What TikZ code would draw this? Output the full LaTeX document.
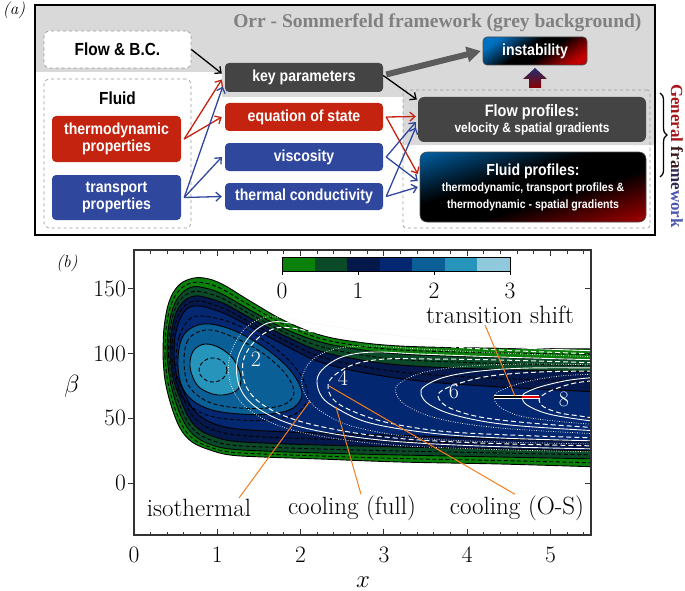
\documentclass[tikz,border=0pt]{standalone}
\usepackage{fontspec}
\newfontfamily\boxfont[FakeStretch=0.88]{Liberation Sans}
\newfontfamily\tnr{Liberation Serif}
\usetikzlibrary{arrows.meta,decorations.pathreplacing,calc}
\definecolor{cred}{HTML}{C4230F}
\definecolor{cblue}{HTML}{30479E}
\definecolor{cdark}{HTML}{444444}
\definecolor{cgreyb}{HTML}{D9D9D9}
\definecolor{cdashg}{HTML}{9A9A9A}
\definecolor{cgarrow}{HTML}{5C5C5C}
\definecolor{sblue}{HTML}{0070C0}
\definecolor{sred}{HTML}{C00000}
\definecolor{c1}{HTML}{0B800B}
\definecolor{c2}{HTML}{0A4A28}
\definecolor{c3}{HTML}{05184C}
\definecolor{c4}{HTML}{032770}
\definecolor{c5}{HTML}{0A5F96}
\definecolor{c6}{HTML}{2794BC}
\definecolor{c7}{HTML}{90C8DC}
\definecolor{corange}{HTML}{F47E1E}
\definecolor{axc}{HTML}{333333}
\definecolor{gA}{HTML}{A3171B}
\definecolor{gB}{HTML}{3A1A1A}
\definecolor{gC}{HTML}{2E2A50}
\definecolor{gD}{HTML}{4A58B0}
\definecolor{arrtop}{HTML}{1E2D6E}
\definecolor{arrbot}{HTML}{8B0000}
\definecolor{tsred}{HTML}{E00010}
\pgfdeclarehorizontalshading{bbr}{100bp}{color(0bp)=(sblue); color(36bp)=(sblue); color(47bp)=(black); color(53bp)=(black); color(64bp)=(sred); color(100bp)=(sred)}
\begin{document}
\begin{tikzpicture}[x=1pt,y=-1pt,
  bx/.style={rounded corners=4pt, inner sep=0pt, text=white, align=center, font={\boxfont\bfseries\fontsize{16}{17}\selectfont}},
  dbox/.style={draw=cdashg, dashed, line width=0.7pt, rounded corners=5pt, inner sep=0pt},
  arr/.style={line width=1.3pt, -{Straight Barb[length=5pt,width=9pt]}},
  lbl/.style={font=\fontsize{25}{28}\selectfont, inner sep=1pt},
  tkl/.style={font=\fontsize{23.5}{26}\selectfont, inner sep=1pt},
  nlb/.style={font=\fontsize{22}{24}\selectfont, inner sep=1pt, text=white},
  blk/.style={draw=black, line width=0.9pt},
  dsh/.style={draw=black, line width=0.9pt, dash pattern=on 4pt off 2.5pt},
  wsol/.style={draw=white, line width=0.9pt},
  wdash/.style={draw=white, line width=1pt, dash pattern=on 5pt off 3pt},
  wdot/.style={draw=white!85!gray, line width=0.8pt, dash pattern=on 0.8pt off 1.6pt},
  org/.style={draw=corange, line width=1pt},
  tk/.style={draw=axc, line width=1pt}]
\useasboundingbox (0,0) rectangle (685,591);

% ================= panel (a) =================
\node[font=\itshape\fontsize{17}{19}\selectfont] (la) at (14,10) {(a)};
\fill[cgreyb] (35,5) -- (655,5) -- (655,145) -- (403,145) -- (403,97) -- (222,97) -- (222,72) -- (35,72) -- cycle;
\draw[line width=1.1pt] (35,5) rectangle (655,235);
\node[anchor=east, text=gray, font={\tnr\bfseries\fontsize{19.5}{22}\selectfont}] (title) at (645,23) {Orr - Sommerfeld framework (grey background)};

\node[dbox, fill=white, minimum width=147pt, minimum height=37pt, font={\boxfont\bfseries\fontsize{17.5}{20}\selectfont}] (flowbc) at (117.5,49.5) {Flow \& B.C.};
\node[dbox, minimum width=147pt, minimum height=149pt] (fluidbox) at (117.5,153.5) {};
\node[font={\boxfont\bfseries\fontsize{17.5}{20}\selectfont}] (fluidlbl) at (117.5,98) {Fluid};
\node[bx, fill=cred, minimum width=129pt, minimum height=46pt] (thermo) at (116.5,139) {thermodynamic\\properties};
\node[bx, fill=cblue, minimum width=129pt, minimum height=45pt] (transp) at (116.5,197.5) {transport\\properties};

\node[bx, fill=cdark, minimum width=158pt, minimum height=29pt] (keyp) at (304,77.5) {key parameters};
\node[bx, fill=cred, minimum width=158pt, minimum height=28pt] (eos) at (304,117) {equation of state};
\node[bx, fill=cblue, minimum width=158pt, minimum height=28pt] (visc) at (304,157) {viscosity};
\node[bx, fill=cblue, minimum width=158pt, minimum height=27pt] (thc) at (304,196.5) {thermal conductivity};

% gradient fills (square shadings clipped to the rounded boxes)
\begin{scope}
\clip[rounded corners=4pt] (483,37) rectangle (587,65);
\shade[shading=bbr, shading angle=-55] (480,-4) rectangle (590,106);
\end{scope}
\draw[black!70, line width=0.6pt, rounded corners=4pt] (483,37) rectangle (587,65);
\begin{scope}
\clip[rounded corners=7pt] (420,152) rectangle (646,222);
\shade[shading=bbr, shading angle=-73] (399,53) rectangle (667,321);
\end{scope}
\draw[black!70, line width=0.6pt, rounded corners=7pt] (420,152) rectangle (646,222);
\node[bx, minimum width=104pt, minimum height=28pt] (instab) at (535,51) {instability};
\node[dbox, rounded corners=3pt, minimum width=247pt, minimum height=138pt] (profbox) at (526.5,159) {};
\node[bx, fill=cdark, rounded corners=6pt, minimum width=228pt, minimum height=45pt] (flowprof) at (532,119.5)
  {{\fontsize{16.5}{18}\selectfont Flow profiles:}\\[-1pt]{\fontsize{13.6}{16}\selectfont velocity \& spatial gradients}};
\node[bx, rounded corners=7pt, minimum width=226pt, minimum height=70pt] (fluidprof) at (533,187)
  {{\fontsize{16}{18}\selectfont Fluid profiles:}\\[-1pt]{\fontsize{12}{15}\selectfont thermodynamic, transport profiles \&}\\{\fontsize{12}{15}\selectfont thermodynamic - spatial gradients}};

% arrows
\draw[arr, black] (flowbc.east) -- ([shift={(-3,-4)}]keyp.west);
\draw[arr, cred] ([xshift=3]thermo.east) -- ([shift={(-3,2)}]keyp.west);
\draw[arr, cred] ([xshift=3]thermo.east) -- ([xshift=-3]eos.west);
\draw[arr, cblue] ([xshift=3]transp.east) -- ([shift={(-2,9)}]keyp.west);
\draw[arr, cblue] ([xshift=3]transp.east) -- ([xshift=-3]visc.west);
\draw[arr, cblue] ([xshift=3]transp.east) -- ([xshift=-3]thc.west);
\draw[arr, black] ([yshift=2]keyp.east) -- ([shift={(-1,-20)}]flowprof.west);
\draw[line width=6pt, cgarrow, -{Triangle[length=14pt,width=15pt]}] ([shift={(3,-3)}]keyp.east) -- ([xshift=-2]instab.west);
\draw[arr, cred] ([xshift=3]eos.east) -- ([shift={(-2,-3)}]flowprof.west);
\draw[arr, cred] ([xshift=3]eos.east) -- ([shift={(-2,-13)}]fluidprof.west);
\draw[arr, cblue] ([xshift=3]visc.east) -- ([shift={(-2,2.5)}]flowprof.west);
\draw[arr, cblue] ([xshift=3]visc.east) -- ([shift={(-2,-6)}]fluidprof.west);
\draw[arr, cblue] ([xshift=3]thc.east) -- ([shift={(-2,8)}]flowprof.west);
\draw[arr, cblue] ([xshift=3]thc.east) -- ([shift={(-2,0)}]fluidprof.west);
% block arrow profiles -> instability
\shade[top color=arrtop, bottom color=arrbot] (535,68) -- (547,79) -- (541,79) -- (541,88) -- (529,88) -- (529,79) -- (523,79) -- cycle;
% brace and general framework
\draw[line width=1.3pt, decorate, decoration={brace, amplitude=7pt}] (660,93) -- (660,177);
\node[rotate=-90, inner sep=0pt, font={\tnr\bfseries\fontsize{17}{19}\selectfont}] (gf) at (677,156)
  {\textcolor{gA}{General} \textcolor{gB}{fra}\textcolor{gC}{me}\textcolor{gD}{work}};

% ================= panel (b) =================
\node[font=\itshape\fontsize{17}{19}\selectfont] (lb) at (67,263) {(b)};
\begin{scope}
\clip (134,250) rectangle (591,535);
% filled contour levels
\filldraw[fill=c1, blk] plot[smooth,tension=.6] coordinates {(163,356) (164,328) (169,302) (178,286) (190,279) (204,278) (222,284) (250,301) (283,320) (317,334) (350,341) (400,346) (483,348) (600,349)} -- (640,349) -- (640,467) -- plot[smooth,tension=.6] coordinates {(600,467) (500,464) (400,462) (320,459) (263,457) (230,455) (210,450) (192,442) (180,428) (171,405) (165,380) (163,356)} -- cycle;
\filldraw[fill=c2, blk] plot[smooth,tension=.6] coordinates {(167,356) (168,331) (173,308) (181,294) (192,287) (205,288) (222,294) (250,310) (283,328) (317,341) (350,348) (400,354) (483,357) (600,360)} -- (640,360) -- (640,459) -- plot[smooth,tension=.6] coordinates {(600,459) (500,457) (400,455) (320,453) (263,451) (230,449) (212,445) (196,437) (185,424) (176,403) (170,380) (167,356)} -- cycle;
\filldraw[fill=c3, blk] plot[smooth,tension=.6] coordinates {(170,356) (171,334) (176,313) (184,301) (195,296) (208,298) (225,304) (252,319) (285,336) (317,350) (350,358) (400,365) (483,369) (600,372)} -- (640,372) -- (640,451) -- plot[smooth,tension=.6] coordinates {(600,451) (500,449) (400,447) (320,445) (263,443) (232,441) (215,437) (200,430) (189,418) (180,398) (173,378) (170,356)} -- cycle;
\filldraw[fill=c4, blk] plot[smooth,tension=.6] coordinates {(174,356) (175,337) (180,319) (188,308) (199,306) (212,309) (230,316) (258,331) (290,348) (320,362) (360,372) (420,381) (500,387) (600,392)} -- (640,392) -- (640,441) -- plot[smooth,tension=.6] coordinates {(600,441) (500,439) (420,436) (350,434) (290,432) (250,430) (225,427) (206,420) (192,408) (183,390) (176,373) (174,356)} -- cycle;
\filldraw[fill=c5, blk] plot[smooth cycle,tension=.6] coordinates {(178,360) (182,338) (193,327) (210,324) (235,331) (265,348) (290,370) (302,393) (293,408) (270,414) (240,414) (212,410) (192,400) (181,384)};
\filldraw[fill=c6, blk] plot[smooth cycle,tension=.6] coordinates {(190,362) (194,350) (205,344) (220,348) (234,360) (241,378) (236,391) (218,395) (200,388) (192,375)};
% dashed contours
\draw[dsh] plot[smooth,tension=.6] coordinates {(165,356) (166,329.5) (171,305) (179.5,290) (191,283) (204.5,283) (222,289) (250,305.5) (283,324) (317,337.5) (350,344.5) (400,350) (483,352.5) (600,354.5)} -- (640,354.5) -- (640,463) -- plot[smooth,tension=.6] coordinates {(600,463) (500,460.5) (400,458.5) (320,456) (263,454) (230,452) (211,447.5) (194,439.5) (182.5,426) (173.5,404) (167.5,380) (165,356)};
\draw[dsh] plot[smooth,tension=.6] coordinates {(168.5,356) (169.5,332.5) (174.5,310.5) (182.5,297.5) (193.5,291.5) (206.5,293) (223.5,299) (251,314.5) (284,332) (317,345.5) (350,353) (400,359.5) (483,363) (600,366)} -- (640,366) -- (640,455) -- plot[smooth,tension=.6] coordinates {(600,455) (500,453) (400,451) (320,449) (263,447) (231,445) (213.5,441) (198,433.5) (187,421) (178,400.5) (171.5,379) (168.5,356)};
\draw[dsh] plot[smooth,tension=.6] coordinates {(172,356) (173,335.5) (178,316) (186,304.5) (197,301) (210,303.5) (227.5,310) (255,325) (287.5,342) (318.5,356) (355,365) (410,373) (491.5,378) (600,382)} -- (640,382) -- (640,446) -- plot[smooth,tension=.6] coordinates {(600,446) (500,444) (410,441.5) (335,439.5) (276.5,437.5) (241,435.5) (220,432) (203,425) (190.5,413) (181.5,394) (174.5,375.5) (172,356)};
\draw[dsh] plot[smooth cycle,tension=.6] coordinates {(176,360) (179,337) (191,318) (210,317) (237,325) (268,343) (295,367) (308,394) (297,413) (270,420) (240,420) (210,416) (189,405) (178,388)};
\draw[dsh] plot[smooth cycle,tension=.6] coordinates {(184,360) (187,342) (196,333) (211,330) (233,337) (261,352) (284,372) (294,391) (287,403) (268,408) (240,408) (214,404) (197,395) (187,382)};
\draw[dsh] (213,370) ellipse [x radius=14, y radius=12];
% N-factor curves: dotted = isothermal, solid = cooling (full), dashed = cooling (O-S)
\draw[wdot] plot[smooth,tension=.6] coordinates {(600,348) (500,344) (400,336) (330,326) (285,318) (262,318) (242,332) (229,360) (233,390) (255,414) (300,432) (380,444) (480,449) (600,452)};
\draw[wsol] plot[smooth,tension=.6] coordinates {(600,351) (500,347) (400,340) (330,331) (290,323) (268,323) (249,337) (237,362) (241,390) (262,411) (305,428) (380,440) (480,446) (600,449)};
\draw[wdash] plot[smooth,tension=.6] coordinates {(600,354) (500,350) (400,343) (330,335) (292,328) (273,329) (255,341) (243,362) (247,388) (268,408) (310,424) (385,437) (480,443) (600,446)};
\draw[wdot] plot[smooth,tension=.6] coordinates {(600,357) (500,353) (420,349) (370,346) (335,349) (312,360) (302,378) (306,396) (322,412) (355,427) (420,438) (500,442) (600,444)};
\draw[wsol] plot[smooth,tension=.6] coordinates {(600,360) (500,357) (420,354) (375,352) (345,356) (325,367) (317,380) (322,397) (338,409) (370,423) (430,433) (500,438) (600,441)};
\draw[wdash] plot[smooth,tension=.6] coordinates {(600,363) (500,360) (430,359) (385,359) (355,364) (336,374) (328,385) (333,399) (350,410) (385,422) (440,431) (510,435) (600,438)};
\draw[wdot] plot[smooth,tension=.6] coordinates {(600,365) (530,364) (470,366) (425,372) (400,383) (396,393) (407,406) (440,419) (500,428) (600,434)};
\draw[wsol] plot[smooth,tension=.6] coordinates {(600,368) (530,368) (480,371) (445,377) (425,386) (421,394) (430,405) (458,416) (510,425) (600,431)};
\draw[wdash] plot[smooth,tension=.6] coordinates {(600,371) (540,372) (490,376) (457,384) (440,392) (439,399) (450,408) (480,417) (530,423) (600,428)};
\draw[wdot] plot[smooth,tension=.6] coordinates {(600,374) (560,376) (525,382) (502,390) (494,397) (500,407) (520,416) (555,421) (600,425)};
\draw[wsol] plot[smooth,tension=.6] coordinates {(600,377) (570,380) (543,386) (527,392) (522,397) (527,405) (545,413) (570,418) (600,422)};
\draw[wdash] plot[smooth,tension=.6] coordinates {(600,380) (575,383) (555,389) (543,395) (539,400) (544,407) (560,413) (580,416) (600,419)};
\end{scope}
% N labels
\node[nlb] (n2) at (256,359) {2};
\node[nlb] (n4) at (343,378) {4};
\node[nlb] (n6) at (454,391) {6};
\node[nlb] (n8) at (564,399) {8};
% transition shift bar
\coordinate (tsL) at (494,397);
\coordinate (tsM) at (522,397);
\coordinate (tsR) at (539,397);
\draw[white, line width=4.5pt] (tsL) -- (tsR);
\draw[black, line width=1.3pt] (tsL) -- (tsM);
\draw[tsred, line width=1.3pt] (tsM) -- (tsR);
% labels with pointers
\node[lbl] (ts) at (500,315) {transition shift};
\node[lbl] (iso) at (199,508) {isothermal};
\node[lbl] (full) at (352,508) {cooling (full)};
\node[lbl] (os) at (517,508) {cooling (O-S)};
\coordinate (pIso) at (310,401);
\coordinate (pFull) at (336,407);
\coordinate (pOS) at (329,386);
\coordinate (pTS) at (515,396);
\draw[org] ([xshift=40]iso.north) -- (pIso);
\draw[org] ([xshift=9]full.north) -- (pFull);
\draw[org] ([xshift=-2]os.north) -- (pOS);
\draw[org] ([xshift=-15]ts.south) -- (pTS);
% colorbar
\foreach \c [count=\i from 0] in {c1,c2,c3,c4,c5,c6,c7}
  \fill[\c] ({282+\i*32.571},257) rectangle ({282+(\i+1)*32.571},271);
\draw[line width=0.8pt] (282,257) rectangle (510,271);
\foreach \k in {0,1,2,3} {
  \draw[line width=0.8pt] ({282+76*\k},271) -- ({282+76*\k},275);
  \node[tkl] (cb\k) at ({282+76*\k},291) {\k};
}
% axes
\draw[axc, line width=1.4pt] (134,250) rectangle (591,535);
\foreach \i in {1,...,27} {
  \draw[tk] ({134+\i*16.66},535) -- ({134+\i*16.66},531.5);
  \draw[tk] ({134+\i*16.66},250) -- ({134+\i*16.66},253.5);
}
\foreach \k in {1,...,5} {
  \draw[tk] ({134+\k*83.3},535) -- ({134+\k*83.3},529);
  \draw[tk] ({134+\k*83.3},250) -- ({134+\k*83.3},256);
}
\foreach \k in {0,...,5} \node[tkl] (xt\k) at ({134+83.3*\k},555) {\k};
\foreach \b in {0,50,100,150} {
  \draw[tk] (128,{483-1.294*\b}) -- (134,{483-1.294*\b});
  \draw[tk] (585,{483-1.294*\b}) -- (591,{483-1.294*\b});
  \node[tkl, anchor=east] (yt\b) at (127,{483-1.294*\b}) {\b};
}
\node[font=\fontsize{26}{30}\selectfont] (xlab) at (363,582) {$x$};
\node[font=\fontsize{26}{30}\selectfont] (ylab) at (72,386) {$\beta$};
\end{tikzpicture}
\end{document}
